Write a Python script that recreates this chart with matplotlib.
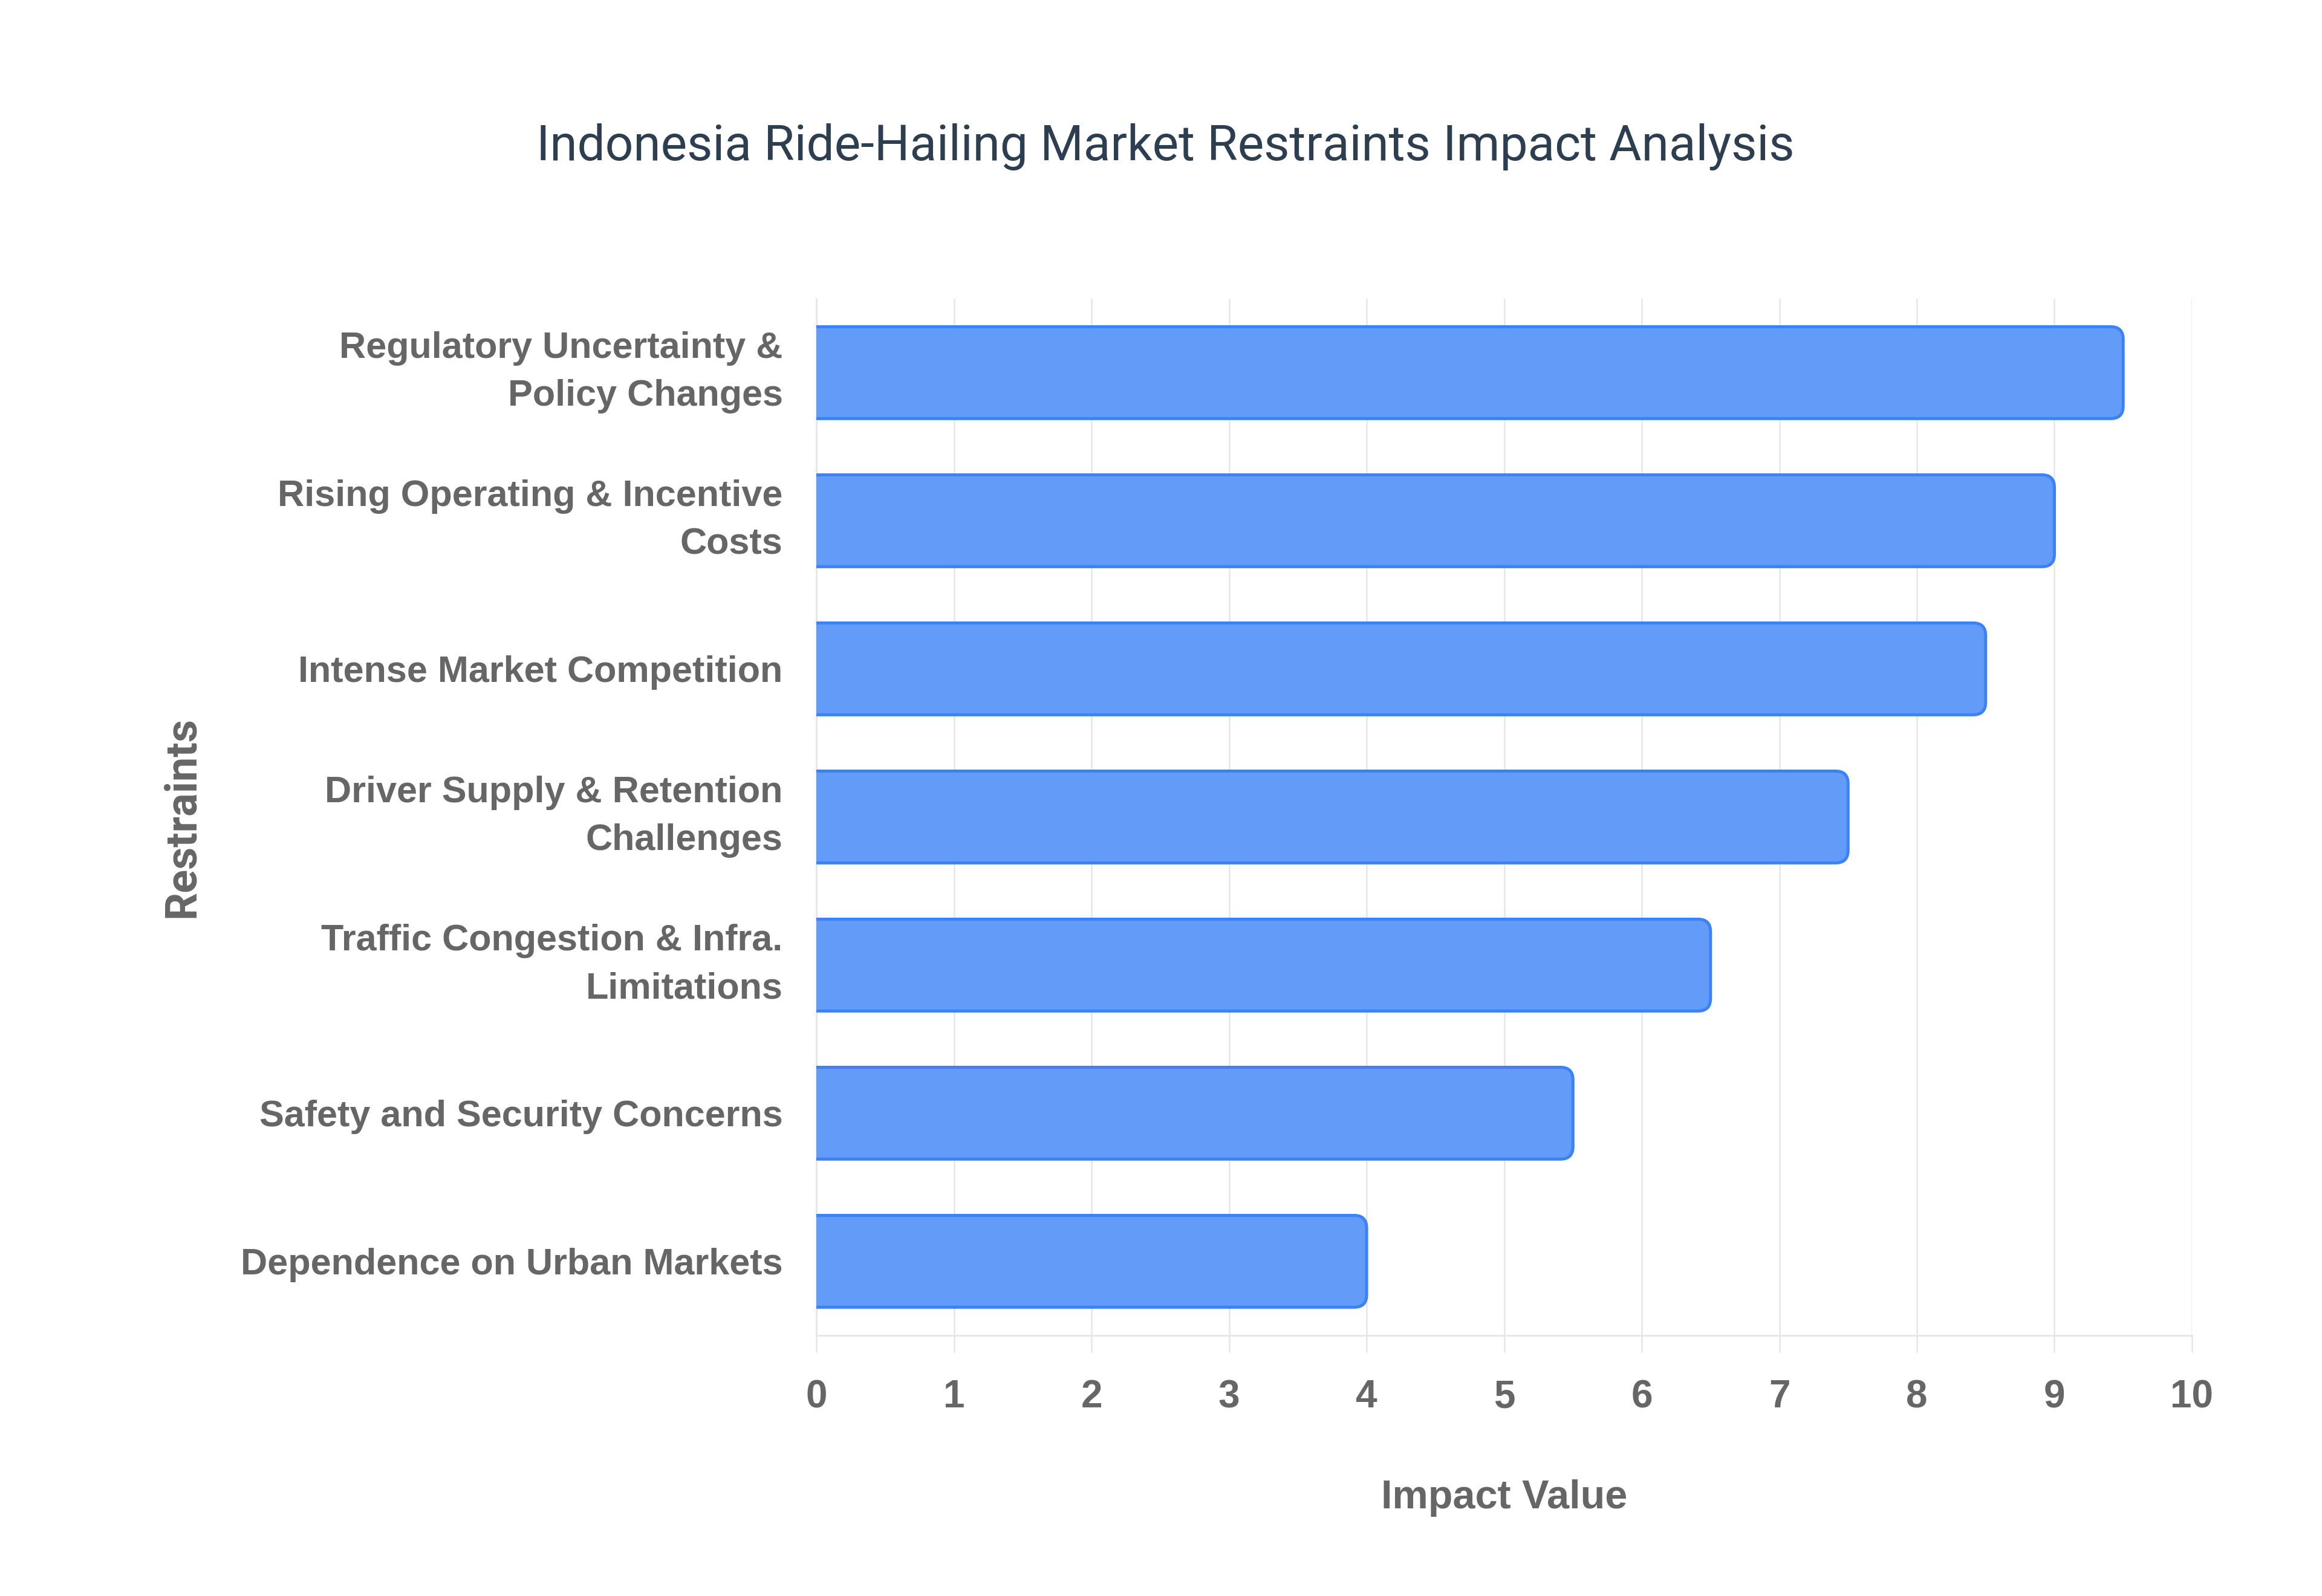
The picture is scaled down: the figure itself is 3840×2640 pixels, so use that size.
import matplotlib
matplotlib.use("Agg")
import matplotlib.pyplot as plt
from matplotlib.patches import FancyBboxPatch
import numpy as np

# data, top to bottom
restraints = [
    "Regulatory Uncertainty &\nPolicy Changes",
    "Rising Operating & Incentive\nCosts",
    "Intense Market Competition",
    "Driver Supply & Retention\nChallenges",
    "Traffic Congestion & Infra.\nLimitations",
    "Safety and Security Concerns",
    "Dependence on Urban Markets",
]
impact = [9.5, 9.0, 8.5, 7.5, 6.5, 5.5, 4.0]
x_ticks = [0, 1, 2, 3, 4, 5, 6, 7, 8, 9, 10]

fill = "#629bf8"
edge = "#3b82f6"
grid_c = "#e6e6e6"
text_c = "#666666"
sans = ["Liberation Sans", "DejaVu Sans"]

fig = plt.figure(figsize=(19.2, 13.2), dpi=200)
ax = fig.add_axes([0.3516, 0.1633, 0.5924, 0.6496])

n = len(restraints)
ypos = np.arange(n)
bar_h = 0.62

ax.set_xlim(0, 10)
ax.set_ylim(n - 0.5, -0.5)

# rounded right end; the left corners are pushed past x=0 and clipped
r_x = 0.09
aspect = 0.085 / r_x
for y, v in zip(ypos, impact):
    p = FancyBboxPatch((-0.3, y - bar_h / 2), v + 0.3, bar_h,
                       boxstyle=f"round,pad=0,rounding_size={r_x}",
                       mutation_aspect=aspect,
                       facecolor=fill, edgecolor=edge, linewidth=1.8,
                       zorder=3, clip_on=True)
    ax.add_patch(p)

ax.set_xticks(x_ticks)
ax.set_xticklabels([str(t) for t in x_ticks])
ax.set_yticks(ypos)
ax.set_yticklabels(restraints)

ax.grid(axis="x", color=grid_c, linewidth=0.9, zorder=0)
for s in ["top", "right"]:
    ax.spines[s].set_visible(False)
for s in ["left", "bottom"]:
    ax.spines[s].set_color(grid_c)
    ax.spines[s].set_linewidth(1.0)
    ax.spines[s].set_zorder(1)

ax.tick_params(axis="x", length=10, width=0.9, color=grid_c, pad=16,
               labelsize=23, labelcolor=text_c)
ax.tick_params(axis="y", length=0, pad=20, labelsize=22, labelcolor=text_c)
for lab in ax.get_xticklabels() + ax.get_yticklabels():
    lab.set_family(sans)
    lab.set_fontweight("bold")
for lab in ax.get_yticklabels():
    lab.set_linespacing(1.5)
    if "\n" in lab.get_text():
        lab.set_verticalalignment("center")

ax.set_xlabel("Impact Value", family=sans, fontweight="bold",
              fontsize=24, color=text_c, labelpad=38)
ax.set_ylabel("Restraints", family=["Roboto", "DejaVu Sans"], fontweight="bold",
              fontsize=26, color=text_c)
ax.yaxis.set_label_coords(-0.446, 0.5)

fig.text(0.502, 0.908, "Indonesia Ride-Hailing Market Restraints Impact Analysis",
         ha="center", va="center", fontsize=29.5, color="#2c3e50",
         family=["Roboto", "Liberation Sans", "DejaVu Sans"])

fig.savefig("out.png", dpi=200, facecolor="white")
